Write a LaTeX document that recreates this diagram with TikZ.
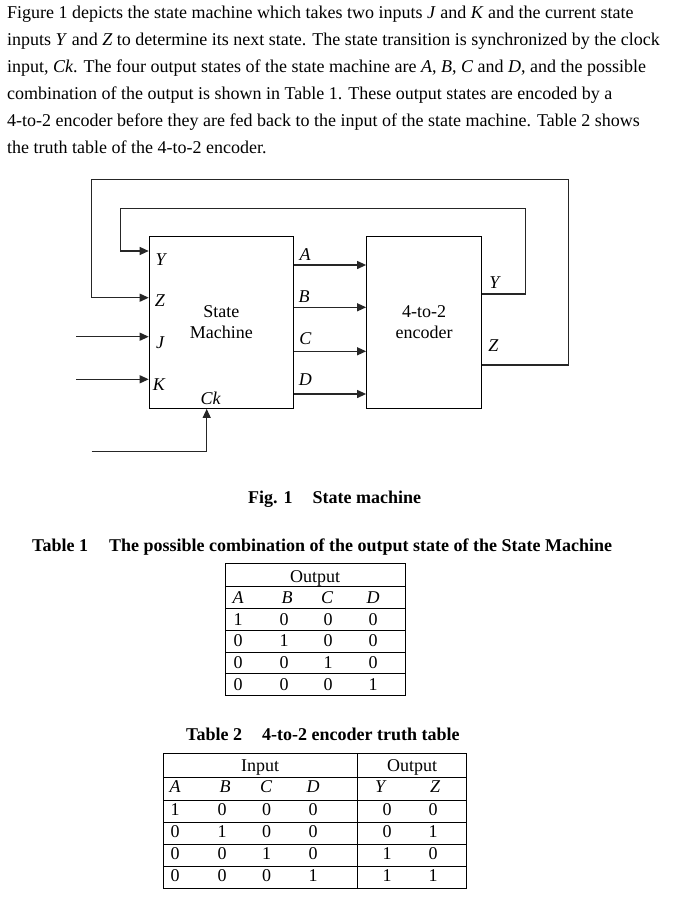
\documentclass[tikz,border=0pt]{standalone}
\usepackage{fontspec}
\setmainfont{Liberation Serif}
\usetikzlibrary{arrows.meta}
\newcommand{\figtext}{\fontsize{18}{21}\selectfont}
\tikzset{
  block/.style={draw=black, line width=1.2pt, inner sep=0pt, align=center, font=\figtext},
  wire/.style={draw=black!85, line width=1.2pt},
  wirearrow/.style={wire, -{Triangle[length=9pt,width=8pt]}},
  portlabel/.style={inner sep=0pt, font=\figtext\itshape},
  partext/.style={anchor=base west, inner sep=0pt, font=\figtext},
  capt/.style={anchor=base west, inner sep=0pt, font=\figtext\bfseries},
  tabcell/.style={anchor=base, inner sep=0pt, font=\figtext},
  tabhead/.style={tabcell, font=\figtext\itshape},
  tabrule/.style={draw=black, line width=1pt}
}
\begin{document}
\begin{tikzpicture}[x=1pt,y=-1pt]
\fill[white] (0,0) rectangle (677,912);
\useasboundingbox (0,0) rectangle (677,912);

% introduction text
\node[partext] (par1) at (7,18.5) {Figure 1 depicts the state machine which takes two inputs \textit{J} and \textit{K} and the current state};
\node[partext] (par2) at (7,45.5) {inputs \textit{Y} and \textit{Z} to determine its next state. The state transition is synchronized by the clock};
\node[partext] (par3) at (7,72.5) {input, \textit{Ck}. The four output states of the state machine are \textit{A}, \textit{B}, \textit{C} and \textit{D}, and the possible};
\node[partext] (par4) at (7,99.5) {combination of the output is shown in Table 1. These output states are encoded by a};
\node[partext] (par5) at (7,126.5) {4-to-2 encoder before they are fed back to the input of the state machine. Table 2 shows};
\node[partext] (par6) at (7,153.5) {the truth table of the 4-to-2 encoder.};

% Fig. 1
\node[block, minimum width=144pt, minimum height=171.6pt] (sm) at (221.3,322.5) {State\\Machine};
\node[block, minimum width=114.6pt, minimum height=171.6pt] (enc) at (424,322.5) {4-to-2\\encoder};

\coordinate (yrow) at (0,251);
\coordinate (zrow) at (0,297.7);
\coordinate (jin) at (76,336.7);
\coordinate (kin) at (76,379.3);
\coordinate (outa) at (0,265);
\coordinate (outb) at (0,307.3);
\coordinate (outc) at (0,351.3);
\coordinate (outd) at (0,394);
\coordinate (yout) at (0,294);
\coordinate (zout) at (0,365);
\coordinate (yright) at (525.3,208.3);
\coordinate (yleft) at (120.3,208.3);
\coordinate (zright) at (568.3,179.3);
\coordinate (zleft) at (91.7,179.3);
\coordinate (ckin) at (91.7,451.7);
\coordinate (ckx) at (206.7,0);

\draw[wirearrow] (enc.east |- yout) -| (yright) -| (yleft |- yrow) -- (sm.west |- yrow);
\draw[wirearrow] (enc.east |- zout) -| (zright) -| (zleft |- zrow) -- (sm.west |- zrow);
\draw[wirearrow] (jin) -- (sm.west |- jin);
\draw[wirearrow] (kin) -- (sm.west |- kin);
\draw[wirearrow] (ckin) -| (ckx |- sm.south);
\foreach \p in {a,b,c,d}
  \draw[wirearrow] (sm.east |- out\p) -- (enc.west |- out\p);

\node[portlabel] (ly) at (160.7,259.3) {Y};
\node[portlabel] (lz) at (160,301) {Z};
\node[portlabel] (lj) at (160,342.3) {J};
\node[portlabel] (lk) at (159,385) {K};
\node[portlabel] (lck) at (210.7,398.7) {Ck};
\node[portlabel] (la) at (305,255) {A};
\node[portlabel] (lb) at (304,296.7) {B};
\node[portlabel] (lc) at (305.3,338.3) {C};
\node[portlabel] (ld) at (305.3,380) {D};
\node[portlabel] (ley) at (494.3,282.7) {Y};
\node[portlabel] (lez) at (493.3,346) {Z};

\node[capt] (figcap) at (248,503) {Fig. 1\hspace{20pt}State machine};

% Table 1
\node[capt] (tabcapa) at (32,551) {Table 1\hspace{21pt}The possible combination of the output state of the State Machine};
\draw[tabrule] (225,563) rectangle (405,695);
\foreach \y in {586,608,630,652,673}
  \draw[tabrule] (225,\y) -- (405,\y);
\node[tabcell] (ta-out) at (315,582.7) {Output};
\foreach \c/\x in {A/238,B/287,C/327,D/373}
  \node[tabhead] (ta-\c) at (\x,603.3) {\c};
\foreach \va/\vb/\vc/\vd [count=\r] in {1/0/0/0,0/1/0/0,0/0/1/0,0/0/0/1} {
  \pgfmathsetmacro\yb{625+(\r-1)*21.7}
  \node[tabcell] (ta-\r a) at (238,\yb) {\va};
  \node[tabcell] (ta-\r b) at (284,\yb) {\vb};
  \node[tabcell] (ta-\r c) at (328,\yb) {\vc};
  \node[tabcell] (ta-\r d) at (373,\yb) {\vd};
}

% Table 2
\node[capt] (tabcapb) at (186,740) {Table 2\hspace{20pt}4-to-2 encoder truth table};
\draw[tabrule] (163,753.3) rectangle (466,888.3);
\draw[tabrule] (357,753.3) -- (357,888.3);
\foreach \y in {777.7,800,822.3,844.3,866.7}
  \draw[tabrule] (163,\y) -- (466,\y);
\node[tabcell] (tb-in) at (260,771.7) {Input};
\node[tabcell] (tb-out) at (412,771.7) {Output};
\foreach \c/\x in {A/175,B/225,C/266,D/313,Y/380,Z/435}
  \node[tabhead] (tb-\c) at (\x,792.7) {\c};
\foreach \va/\vb/\vc/\vd/\vy/\vz [count=\r] in {1/0/0/0/0/0,0/1/0/0/0/1,0/0/1/0/1/0,0/0/0/1/1/1} {
  \pgfmathsetmacro\yb{815+(\r-1)*22}
  \node[tabcell] (tb-\r a) at (175,\yb) {\va};
  \node[tabcell] (tb-\r b) at (222,\yb) {\vb};
  \node[tabcell] (tb-\r c) at (266.7,\yb) {\vc};
  \node[tabcell] (tb-\r d) at (313,\yb) {\vd};
  \node[tabcell] (tb-\r y) at (387,\yb) {\vy};
  \node[tabcell] (tb-\r z) at (433,\yb) {\vz};
}
\end{tikzpicture}
\end{document}
